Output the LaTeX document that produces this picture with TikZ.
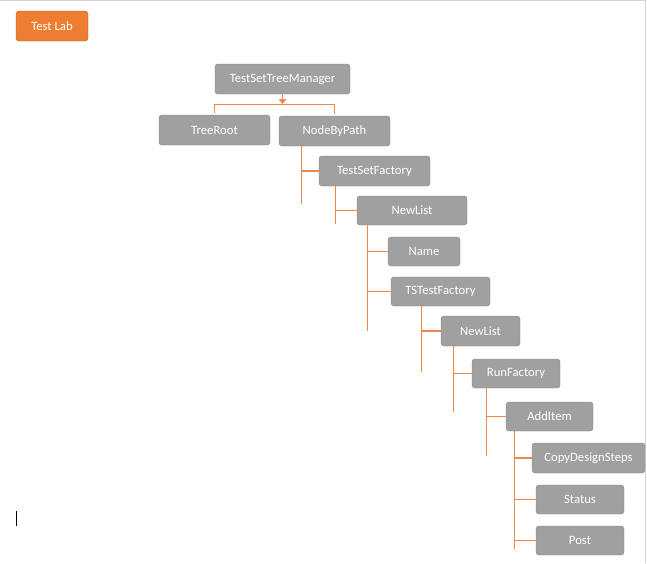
\documentclass[tikz,border=0pt]{standalone}
\usepackage{fontspec}
\setmainfont{Carlito}
\usetikzlibrary{arrows.meta}
\definecolor{boxgray}{HTML}{A0A0A0}
\definecolor{boxedge}{HTML}{828282}
\definecolor{labfill}{HTML}{ED7D31}
\definecolor{labedge}{HTML}{B25F27}
\definecolor{wire}{HTML}{F0884A}
\definecolor{frame}{HTML}{D4D4D4}
\tikzset{
	box/.style={draw=boxedge, fill=boxgray, rounded corners=3pt, text=white, minimum height=30pt, inner sep=0pt, font=\fontsize{12.7}{15}\selectfont},
	labbox/.style={box, draw=labedge, fill=labfill},
	wireline/.style={draw=wire, line width=1.1pt},
	framerule/.style={draw=frame, line width=1pt}
}

\begin{document}
\begin{tikzpicture}[x=1pt, y=-1pt]
			%%%%% START %%%%%
			\useasboundingbox (0,0) rectangle (647,563);
			\draw[framerule] (0,0.5) -- (645.5,0.5) -- (645.5,563);
			
			\node[labbox, minimum width=72pt] (lab) at (52,26) {Test Lab};
			
			\node[box, minimum width=135pt] (mgr) at (282.5,79) {TestSetTreeManager};
			\node[box, minimum width=111pt] (root) at (214.5,130) {TreeRoot};
			\node[box, minimum width=111pt] (path) at (334.5,131) {NodeByPath};
			\node[box, minimum width=111pt] (tsf) at (374.5,171) {TestSetFactory};
			\node[box, minimum width=110pt, minimum height=29pt] (nlist) at (412,210.5) {NewList};
			\node[box, minimum width=72pt, minimum height=29pt] (name) at (424,251.5) {Name};
			\node[box, minimum width=99pt, minimum height=29pt] (tstf) at (440.5,291.5) {TSTestFactory};
			\node[box, minimum width=79pt] (nlistb) at (480.5,331) {NewList};
			\node[box, minimum width=88pt, minimum height=29pt] (run) at (516,373.5) {RunFactory};
			\node[box, minimum width=87pt, minimum height=29pt] (add) at (549.5,416.5) {AddItem};
			\node[box, minimum width=113pt] (copy) at (588.5,458) {CopyDesignSteps};
			\node[box, minimum width=88pt, minimum height=29pt] (status) at (580,499.5) {Status};
			\node[box, minimum width=88pt, minimum height=29pt] (post) at (580,540.5) {Post};
			
			% manager to its two children
			\coordinate (bus) at ([yshift=-10pt]mgr.south);
			\draw[wireline, -{Triangle[width=7pt,length=5pt]}] (mgr.south) -- (bus);
			\draw[wireline, shorten <=2pt, shorten >=2pt] (root.north) -- (root.north |- bus) -- (path.north |- bus) -- (path.north);
			
			% stems under each parent
			\coordinate (pathT) at ([xshift=23pt]path.south west);
			\coordinate (tsfT) at ([xshift=17pt]tsf.south west);
			\coordinate (nlistT) at ([xshift=11pt]nlist.south west);
			\coordinate (tstfT) at ([xshift=31pt]tstf.south west);
			\coordinate (nlistbT) at ([xshift=13pt]nlistb.south west);
			\coordinate (runT) at ([xshift=15pt]run.south west);
			\coordinate (addT) at ([xshift=9pt]add.south west);
			
			\draw[wireline] (pathT) -- ++(0,58);
			\draw[wireline] (tsfT) -- ++(0,38);
			\draw[wireline] (nlistT) -- ++(0,106);
			\draw[wireline] (tstfT) -- ++(0,66);
			\draw[wireline] (nlistbT) -- ++(0,66);
			\draw[wireline] (runT) -- ++(0,68);
			\draw[wireline] (addT) -- ++(0,118);
			
			\draw[wireline] (pathT |- tsf.west) -- (tsf.west);
			\draw[wireline] (tsfT |- nlist.west) -- (nlist.west);
			\draw[wireline] (nlistT |- name.west) -- (name.west);
			\draw[wireline] (nlistT |- tstf.west) -- (tstf.west);
			\draw[wireline] (tstfT |- nlistb.west) -- (nlistb.west);
			\draw[wireline] (nlistbT |- run.west) -- (run.west);
			\draw[wireline] (runT |- add.west) -- (add.west);
			\draw[wireline] (addT |- copy.west) -- (copy.west);
			\draw[wireline] (addT |- status.west) -- (status.west);
			\draw[wireline] (addT |- post.west) -- (post.west);
			
			% text cursor
			\draw[black, line width=1pt] (16,511) -- (16,526);
			%%%%% END %%%%%
		\end{tikzpicture}
\end{document}
